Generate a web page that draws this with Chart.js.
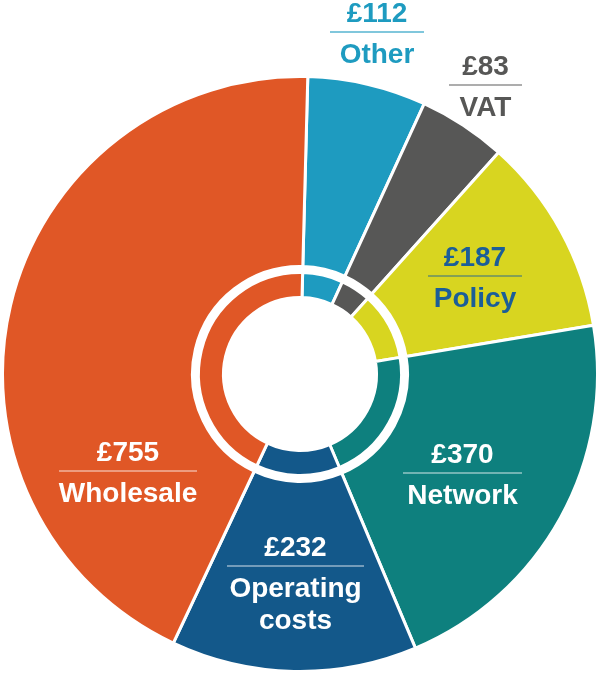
<!DOCTYPE html>
<html>
<head>
<meta charset="utf-8">
<script src="https://cdn.jsdelivr.net/npm/chart.js@4.4.1/dist/chart.umd.min.js"></script>
<style>
  html, body { margin: 0; padding: 0; background: #ffffff; }
  #wrap { position: relative; width: 600px; height: 674px; }
</style>
</head>
<body>
<div id="wrap"><canvas id="c"></canvas></div>
<script>
// ---- data ----
const categories = ['Other', 'VAT', 'Policy', 'Network', 'Operating costs', 'Wholesale'];
const values = [112, 83, 187, 370, 232, 755];
const currency = '£';

// ---- styles ----
const sliceColors = ['#1E9BC0', '#575756', '#D8D520', '#0E807E', '#13588A', '#E05726'];
const labelColors = ['#1E9BC0', '#575756', '#1B5E98', '#FFFFFF', '#FFFFFF', '#FFFFFF'];
const ruleColors = ['rgba(30,155,192,0.75)', 'rgba(87,87,86,0.65)', 'rgba(27,94,152,0.6)',
                    'rgba(255,255,255,0.55)', 'rgba(255,255,255,0.55)', 'rgba(255,255,255,0.55)'];
// label anchor offsets from the doughnut centre (px) and rule lengths
const labelPlacement = [
  { dx: 77,    dy: -342, rule: 94 },
  { dx: 185.5, dy: -289, rule: 73 },
  { dx: 175,   dy: -98,  rule: 94 },
  { dx: 162.5, dy: 99,   rule: 119 },
  { dx: -4.5,  dy: 192,  rule: 137, wrap: true },
  { dx: -172,  dy: 97,   rule: 138 }
];

const labelPlugin = {
  id: 'sliceLabels',
  afterDatasetsDraw(chart) {
    const ctx = chart.ctx;
    const meta = chart.getDatasetMeta(0);
    ctx.save();
    ctx.font = 'bold 28px "Liberation Sans", Arial, sans-serif';
    ctx.textAlign = 'center';
    ctx.textBaseline = 'alphabetic';
    meta.data.forEach((arc, i) => {
      const p = labelPlacement[i];
      const cx = arc.x + p.dx;
      const cy = arc.y + p.dy;
      ctx.fillStyle = labelColors[i];
      ctx.fillText(currency + values[i], cx, cy - 10.5);
      ctx.strokeStyle = ruleColors[i];
      ctx.lineWidth = 1.5;
      ctx.beginPath();
      ctx.moveTo(cx - p.rule / 2, cy);
      ctx.lineTo(cx + p.rule / 2, cy);
      ctx.stroke();
      const lines = p.wrap ? categories[i].split(' ') : [categories[i]];
      lines.forEach((t, k) => ctx.fillText(t, cx, cy + 30.5 + k * 32));
    });
    ctx.restore();
  }
};

new Chart(document.getElementById('c'), {
  type: 'doughnut',
  data: {
    labels: categories,
    datasets: [
      { data: values, backgroundColor: sliceColors, borderColor: '#ffffff', borderWidth: 3, weight: 190 },
      { data: [1], backgroundColor: 'rgba(0,0,0,0)', borderWidth: 0, weight: 6 },
      { data: values, backgroundColor: sliceColors, borderColor: '#ffffff', borderWidth: 3, weight: 25 }
    ]
  },
  options: {
    responsive: true,
    maintainAspectRatio: false,
    animation: false,
    rotation: 1.5,
    radius: 297.5,
    cutout: '25.71%',
    layout: { padding: { top: 74, bottom: 0, left: 0, right: 0 } },
    plugins: { legend: { display: false }, tooltip: { enabled: false } },
    events: []
  },
  plugins: [labelPlugin]
});
</script>
</body>
</html>
